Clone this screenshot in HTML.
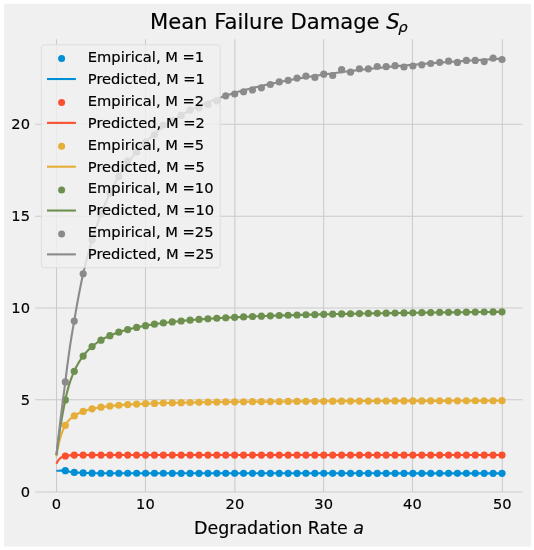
<!DOCTYPE html>
<html lang="en"><head><meta charset="utf-8"><title>Mean Failure Damage</title>
<style>html,body{margin:0;padding:0;background:#fff;}body{width:534px;height:550px;overflow:hidden;}svg text{stroke:#000;stroke-width:0.17px;}</style>
</head><body>
<svg width="534" height="550" viewBox="0 0 534 550" style="display:block">
<rect x="0" y="0" width="534" height="550" fill="#ffffff"/>
<rect x="4" y="3.8" width="527" height="542.7" fill="#f0f0f0"/>
<g stroke="#cbcbcb" stroke-width="1.05" fill="none">
<line x1="56.50" y1="39.20" x2="56.50" y2="491.95"/>
<line x1="145.45" y1="39.20" x2="145.45" y2="491.95"/>
<line x1="234.90" y1="39.20" x2="234.90" y2="491.95"/>
<line x1="323.65" y1="39.20" x2="323.65" y2="491.95"/>
<line x1="412.45" y1="39.20" x2="412.45" y2="491.95"/>
<line x1="502.36" y1="39.20" x2="502.36" y2="491.95"/>
<line x1="35.20" y1="491.95" x2="522.60" y2="491.95"/>
<line x1="35.20" y1="399.70" x2="522.60" y2="399.70"/>
<line x1="35.20" y1="308.09" x2="522.60" y2="308.09"/>
<line x1="35.20" y1="216.30" x2="522.60" y2="216.30"/>
<line x1="35.20" y1="124.23" x2="522.60" y2="124.23"/>
</g>
<g fill="#008fd5">
<circle cx="65.34" cy="470.69" r="3.6"/>
<circle cx="74.25" cy="472.43" r="3.6"/>
<circle cx="83.16" cy="472.89" r="3.6"/>
<circle cx="92.08" cy="473.17" r="3.6"/>
<circle cx="100.99" cy="473.26" r="3.6"/>
<circle cx="109.90" cy="473.26" r="3.6"/>
<circle cx="118.81" cy="473.26" r="3.6"/>
<circle cx="127.72" cy="473.27" r="3.6"/>
<circle cx="136.63" cy="473.27" r="3.6"/>
<circle cx="145.55" cy="473.27" r="3.6"/>
<circle cx="154.46" cy="473.27" r="3.6"/>
<circle cx="163.37" cy="473.27" r="3.6"/>
<circle cx="172.28" cy="473.28" r="3.6"/>
<circle cx="181.19" cy="473.28" r="3.6"/>
<circle cx="190.10" cy="473.28" r="3.6"/>
<circle cx="199.02" cy="473.28" r="3.6"/>
<circle cx="207.93" cy="473.28" r="3.6"/>
<circle cx="216.84" cy="473.29" r="3.6"/>
<circle cx="225.75" cy="473.29" r="3.6"/>
<circle cx="234.66" cy="473.29" r="3.6"/>
<circle cx="243.57" cy="473.29" r="3.6"/>
<circle cx="252.49" cy="473.29" r="3.6"/>
<circle cx="261.40" cy="473.30" r="3.6"/>
<circle cx="270.31" cy="473.30" r="3.6"/>
<circle cx="279.22" cy="473.30" r="3.6"/>
<circle cx="288.13" cy="473.30" r="3.6"/>
<circle cx="297.04" cy="473.30" r="3.6"/>
<circle cx="305.95" cy="473.31" r="3.6"/>
<circle cx="314.87" cy="473.31" r="3.6"/>
<circle cx="323.78" cy="473.31" r="3.6"/>
<circle cx="332.69" cy="473.31" r="3.6"/>
<circle cx="341.60" cy="473.31" r="3.6"/>
<circle cx="350.51" cy="473.32" r="3.6"/>
<circle cx="359.42" cy="473.32" r="3.6"/>
<circle cx="368.34" cy="473.32" r="3.6"/>
<circle cx="377.25" cy="473.32" r="3.6"/>
<circle cx="386.16" cy="473.32" r="3.6"/>
<circle cx="395.07" cy="473.33" r="3.6"/>
<circle cx="403.98" cy="473.33" r="3.6"/>
<circle cx="412.89" cy="473.33" r="3.6"/>
<circle cx="421.81" cy="473.33" r="3.6"/>
<circle cx="430.72" cy="473.33" r="3.6"/>
<circle cx="439.63" cy="473.34" r="3.6"/>
<circle cx="448.54" cy="473.34" r="3.6"/>
<circle cx="457.45" cy="473.34" r="3.6"/>
<circle cx="466.36" cy="473.34" r="3.6"/>
<circle cx="475.28" cy="473.34" r="3.6"/>
<circle cx="484.19" cy="473.35" r="3.6"/>
<circle cx="493.10" cy="473.35" r="3.6"/>
<circle cx="502.01" cy="473.35" r="3.6"/>
</g>
<polyline points="56.43,470.87 57.32,470.82 58.21,470.76 59.10,470.70 59.99,470.65 60.89,470.59 61.78,470.61 62.67,470.63 63.56,470.65 64.45,470.67 65.34,470.69 66.23,470.91 67.12,471.13 68.02,471.35 68.91,471.57 69.80,471.79 70.69,471.92 71.58,472.05 72.47,472.17 73.36,472.30 74.25,472.43 75.14,472.48 76.04,472.52 76.93,472.57 77.82,472.62 78.71,472.66 79.60,472.71 80.49,472.75 81.38,472.80 82.27,472.85 83.16,472.89 84.06,472.92 84.95,472.95 85.84,472.97 86.73,473.00 87.62,473.03 88.51,473.06 89.40,473.08 90.29,473.11 91.19,473.14 92.08,473.17 92.97,473.18 93.86,473.19 94.75,473.19 95.64,473.20 96.53,473.21 97.42,473.22 98.31,473.23 99.21,473.24 100.10,473.25 100.99,473.26 101.88,473.26 102.77,473.26 103.66,473.26 104.55,473.26 105.44,473.26 106.33,473.26 107.23,473.26 108.12,473.26 109.01,473.26 109.90,473.26 110.79,473.26 111.68,473.26 112.57,473.26 113.46,473.26 114.36,473.26 115.25,473.26 116.14,473.26 117.03,473.26 117.92,473.26 118.81,473.26 119.70,473.26 120.59,473.26 121.48,473.26 122.38,473.26 123.27,473.26 124.16,473.26 125.05,473.26 125.94,473.26 126.83,473.27 127.72,473.27 128.61,473.27 129.51,473.27 130.40,473.27 131.29,473.27 132.18,473.27 133.07,473.27 133.96,473.27 134.85,473.27 135.74,473.27 136.63,473.27 137.53,473.27 138.42,473.27 139.31,473.27 140.20,473.27 141.09,473.27 141.98,473.27 142.87,473.27 143.76,473.27 144.65,473.27 145.55,473.27 146.44,473.27 147.33,473.27 148.22,473.27 149.11,473.27 150.00,473.27 150.89,473.27 151.78,473.27 152.68,473.27 153.57,473.27 154.46,473.27 155.35,473.27 156.24,473.27 157.13,473.27 158.02,473.27 158.91,473.27 159.80,473.27 160.70,473.27 161.59,473.27 162.48,473.27 163.37,473.27 164.26,473.27 165.15,473.27 166.04,473.27 166.93,473.27 167.82,473.27 168.72,473.27 169.61,473.27 170.50,473.28 171.39,473.28 172.28,473.28 173.17,473.28 174.06,473.28 174.95,473.28 175.85,473.28 176.74,473.28 177.63,473.28 178.52,473.28 179.41,473.28 180.30,473.28 181.19,473.28 182.08,473.28 182.97,473.28 183.87,473.28 184.76,473.28 185.65,473.28 186.54,473.28 187.43,473.28 188.32,473.28 189.21,473.28 190.10,473.28 191.00,473.28 191.89,473.28 192.78,473.28 193.67,473.28 194.56,473.28 195.45,473.28 196.34,473.28 197.23,473.28 198.12,473.28 199.02,473.28 199.91,473.28 200.80,473.28 201.69,473.28 202.58,473.28 203.47,473.28 204.36,473.28 205.25,473.28 206.14,473.28 207.04,473.28 207.93,473.28 208.82,473.28 209.71,473.28 210.60,473.28 211.49,473.28 212.38,473.28 213.27,473.28 214.17,473.29 215.06,473.29 215.95,473.29 216.84,473.29 217.73,473.29 218.62,473.29 219.51,473.29 220.40,473.29 221.29,473.29 222.19,473.29 223.08,473.29 223.97,473.29 224.86,473.29 225.75,473.29 226.64,473.29 227.53,473.29 228.42,473.29 229.32,473.29 230.21,473.29 231.10,473.29 231.99,473.29 232.88,473.29 233.77,473.29 234.66,473.29 235.55,473.29 236.44,473.29 237.34,473.29 238.23,473.29 239.12,473.29 240.01,473.29 240.90,473.29 241.79,473.29 242.68,473.29 243.57,473.29 244.46,473.29 245.36,473.29 246.25,473.29 247.14,473.29 248.03,473.29 248.92,473.29 249.81,473.29 250.70,473.29 251.59,473.29 252.49,473.29 253.38,473.29 254.27,473.29 255.16,473.29 256.05,473.29 256.94,473.29 257.83,473.30 258.72,473.30 259.61,473.30 260.51,473.30 261.40,473.30 262.29,473.30 263.18,473.30 264.07,473.30 264.96,473.30 265.85,473.30 266.74,473.30 267.63,473.30 268.53,473.30 269.42,473.30 270.31,473.30 271.20,473.30 272.09,473.30 272.98,473.30 273.87,473.30 274.76,473.30 275.66,473.30 276.55,473.30 277.44,473.30 278.33,473.30 279.22,473.30 280.11,473.30 281.00,473.30 281.89,473.30 282.78,473.30 283.68,473.30 284.57,473.30 285.46,473.30 286.35,473.30 287.24,473.30 288.13,473.30 289.02,473.30 289.91,473.30 290.81,473.30 291.70,473.30 292.59,473.30 293.48,473.30 294.37,473.30 295.26,473.30 296.15,473.30 297.04,473.30 297.93,473.30 298.83,473.30 299.72,473.30 300.61,473.30 301.50,473.31 302.39,473.31 303.28,473.31 304.17,473.31 305.06,473.31 305.95,473.31 306.85,473.31 307.74,473.31 308.63,473.31 309.52,473.31 310.41,473.31 311.30,473.31 312.19,473.31 313.08,473.31 313.98,473.31 314.87,473.31 315.76,473.31 316.65,473.31 317.54,473.31 318.43,473.31 319.32,473.31 320.21,473.31 321.10,473.31 322.00,473.31 322.89,473.31 323.78,473.31 324.67,473.31 325.56,473.31 326.45,473.31 327.34,473.31 328.23,473.31 329.12,473.31 330.02,473.31 330.91,473.31 331.80,473.31 332.69,473.31 333.58,473.31 334.47,473.31 335.36,473.31 336.25,473.31 337.15,473.31 338.04,473.31 338.93,473.31 339.82,473.31 340.71,473.31 341.60,473.31 342.49,473.31 343.38,473.31 344.27,473.31 345.17,473.32 346.06,473.32 346.95,473.32 347.84,473.32 348.73,473.32 349.62,473.32 350.51,473.32 351.40,473.32 352.30,473.32 353.19,473.32 354.08,473.32 354.97,473.32 355.86,473.32 356.75,473.32 357.64,473.32 358.53,473.32 359.42,473.32 360.32,473.32 361.21,473.32 362.10,473.32 362.99,473.32 363.88,473.32 364.77,473.32 365.66,473.32 366.55,473.32 367.44,473.32 368.34,473.32 369.23,473.32 370.12,473.32 371.01,473.32 371.90,473.32 372.79,473.32 373.68,473.32 374.57,473.32 375.47,473.32 376.36,473.32 377.25,473.32 378.14,473.32 379.03,473.32 379.92,473.32 380.81,473.32 381.70,473.32 382.59,473.32 383.49,473.32 384.38,473.32 385.27,473.32 386.16,473.32 387.05,473.32 387.94,473.32 388.83,473.33 389.72,473.33 390.62,473.33 391.51,473.33 392.40,473.33 393.29,473.33 394.18,473.33 395.07,473.33 395.96,473.33 396.85,473.33 397.74,473.33 398.64,473.33 399.53,473.33 400.42,473.33 401.31,473.33 402.20,473.33 403.09,473.33 403.98,473.33 404.87,473.33 405.76,473.33 406.66,473.33 407.55,473.33 408.44,473.33 409.33,473.33 410.22,473.33 411.11,473.33 412.00,473.33 412.89,473.33 413.79,473.33 414.68,473.33 415.57,473.33 416.46,473.33 417.35,473.33 418.24,473.33 419.13,473.33 420.02,473.33 420.91,473.33 421.81,473.33 422.70,473.33 423.59,473.33 424.48,473.33 425.37,473.33 426.26,473.33 427.15,473.33 428.04,473.33 428.93,473.33 429.83,473.33 430.72,473.33 431.61,473.33 432.50,473.34 433.39,473.34 434.28,473.34 435.17,473.34 436.06,473.34 436.96,473.34 437.85,473.34 438.74,473.34 439.63,473.34 440.52,473.34 441.41,473.34 442.30,473.34 443.19,473.34 444.08,473.34 444.98,473.34 445.87,473.34 446.76,473.34 447.65,473.34 448.54,473.34 449.43,473.34 450.32,473.34 451.21,473.34 452.11,473.34 453.00,473.34 453.89,473.34 454.78,473.34 455.67,473.34 456.56,473.34 457.45,473.34 458.34,473.34 459.23,473.34 460.13,473.34 461.02,473.34 461.91,473.34 462.80,473.34 463.69,473.34 464.58,473.34 465.47,473.34 466.36,473.34 467.25,473.34 468.15,473.34 469.04,473.34 469.93,473.34 470.82,473.34 471.71,473.34 472.60,473.34 473.49,473.34 474.38,473.34 475.28,473.34 476.17,473.35 477.06,473.35 477.95,473.35 478.84,473.35 479.73,473.35 480.62,473.35 481.51,473.35 482.40,473.35 483.30,473.35 484.19,473.35 485.08,473.35 485.97,473.35 486.86,473.35 487.75,473.35 488.64,473.35 489.53,473.35 490.42,473.35 491.32,473.35 492.21,473.35 493.10,473.35 493.99,473.35 494.88,473.35 495.77,473.35 496.66,473.35 497.55,473.35 498.45,473.35 499.34,473.35 500.23,473.35 501.12,473.35 502.01,473.35" fill="none" stroke="#008fd5" stroke-width="2.1" stroke-linejoin="round" stroke-linecap="butt"/>
<g fill="#fc4f30">
<circle cx="65.34" cy="455.98" r="3.6"/>
<circle cx="74.25" cy="455.07" r="3.6"/>
<circle cx="83.16" cy="455.07" r="3.6"/>
<circle cx="92.08" cy="455.07" r="3.6"/>
<circle cx="100.99" cy="455.07" r="3.6"/>
<circle cx="109.90" cy="455.07" r="3.6"/>
<circle cx="118.81" cy="455.07" r="3.6"/>
<circle cx="127.72" cy="455.07" r="3.6"/>
<circle cx="136.63" cy="455.07" r="3.6"/>
<circle cx="145.55" cy="455.07" r="3.6"/>
<circle cx="154.46" cy="455.07" r="3.6"/>
<circle cx="163.37" cy="455.07" r="3.6"/>
<circle cx="172.28" cy="455.07" r="3.6"/>
<circle cx="181.19" cy="455.07" r="3.6"/>
<circle cx="190.10" cy="455.07" r="3.6"/>
<circle cx="199.02" cy="455.07" r="3.6"/>
<circle cx="207.93" cy="455.07" r="3.6"/>
<circle cx="216.84" cy="455.07" r="3.6"/>
<circle cx="225.75" cy="455.07" r="3.6"/>
<circle cx="234.66" cy="455.07" r="3.6"/>
<circle cx="243.57" cy="455.07" r="3.6"/>
<circle cx="252.49" cy="455.07" r="3.6"/>
<circle cx="261.40" cy="455.07" r="3.6"/>
<circle cx="270.31" cy="455.07" r="3.6"/>
<circle cx="279.22" cy="455.07" r="3.6"/>
<circle cx="288.13" cy="455.07" r="3.6"/>
<circle cx="297.04" cy="455.07" r="3.6"/>
<circle cx="305.95" cy="455.07" r="3.6"/>
<circle cx="314.87" cy="455.07" r="3.6"/>
<circle cx="323.78" cy="455.07" r="3.6"/>
<circle cx="332.69" cy="455.07" r="3.6"/>
<circle cx="341.60" cy="455.07" r="3.6"/>
<circle cx="350.51" cy="455.07" r="3.6"/>
<circle cx="359.42" cy="455.07" r="3.6"/>
<circle cx="368.34" cy="455.07" r="3.6"/>
<circle cx="377.25" cy="455.07" r="3.6"/>
<circle cx="386.16" cy="455.07" r="3.6"/>
<circle cx="395.07" cy="455.07" r="3.6"/>
<circle cx="403.98" cy="455.07" r="3.6"/>
<circle cx="412.89" cy="455.07" r="3.6"/>
<circle cx="421.81" cy="455.07" r="3.6"/>
<circle cx="430.72" cy="455.07" r="3.6"/>
<circle cx="439.63" cy="455.07" r="3.6"/>
<circle cx="448.54" cy="455.07" r="3.6"/>
<circle cx="457.45" cy="455.07" r="3.6"/>
<circle cx="466.36" cy="455.07" r="3.6"/>
<circle cx="475.28" cy="455.07" r="3.6"/>
<circle cx="484.19" cy="455.07" r="3.6"/>
<circle cx="493.10" cy="455.07" r="3.6"/>
<circle cx="502.01" cy="455.07" r="3.6"/>
</g>
<polyline points="56.43,463.70 57.32,462.09 58.21,460.47 59.10,459.26 59.99,458.45 60.89,457.64 61.78,457.20 62.67,456.76 63.56,456.43 64.45,456.21 65.34,455.98 66.23,455.86 67.12,455.73 68.02,455.60 68.91,455.47 69.80,455.34 70.69,455.29 71.58,455.23 72.47,455.18 73.36,455.12 74.25,455.07 75.14,455.07 76.04,455.07 76.93,455.07 77.82,455.07 78.71,455.07 79.60,455.07 80.49,455.07 81.38,455.07 82.27,455.07 83.16,455.07 84.06,455.07 84.95,455.07 85.84,455.07 86.73,455.07 87.62,455.07 88.51,455.07 89.40,455.07 90.29,455.07 91.19,455.07 92.08,455.07 92.97,455.07 93.86,455.07 94.75,455.07 95.64,455.07 96.53,455.07 97.42,455.07 98.31,455.07 99.21,455.07 100.10,455.07 100.99,455.07 101.88,455.07 102.77,455.07 103.66,455.07 104.55,455.07 105.44,455.07 106.33,455.07 107.23,455.07 108.12,455.07 109.01,455.07 109.90,455.07 110.79,455.07 111.68,455.07 112.57,455.07 113.46,455.07 114.36,455.07 115.25,455.07 116.14,455.07 117.03,455.07 117.92,455.07 118.81,455.07 119.70,455.07 120.59,455.07 121.48,455.07 122.38,455.07 123.27,455.07 124.16,455.07 125.05,455.07 125.94,455.07 126.83,455.07 127.72,455.07 128.61,455.07 129.51,455.07 130.40,455.07 131.29,455.07 132.18,455.07 133.07,455.07 133.96,455.07 134.85,455.07 135.74,455.07 136.63,455.07 137.53,455.07 138.42,455.07 139.31,455.07 140.20,455.07 141.09,455.07 141.98,455.07 142.87,455.07 143.76,455.07 144.65,455.07 145.55,455.07 146.44,455.07 147.33,455.07 148.22,455.07 149.11,455.07 150.00,455.07 150.89,455.07 151.78,455.07 152.68,455.07 153.57,455.07 154.46,455.07 155.35,455.07 156.24,455.07 157.13,455.07 158.02,455.07 158.91,455.07 159.80,455.07 160.70,455.07 161.59,455.07 162.48,455.07 163.37,455.07 164.26,455.07 165.15,455.07 166.04,455.07 166.93,455.07 167.82,455.07 168.72,455.07 169.61,455.07 170.50,455.07 171.39,455.07 172.28,455.07 173.17,455.07 174.06,455.07 174.95,455.07 175.85,455.07 176.74,455.07 177.63,455.07 178.52,455.07 179.41,455.07 180.30,455.07 181.19,455.07 182.08,455.07 182.97,455.07 183.87,455.07 184.76,455.07 185.65,455.07 186.54,455.07 187.43,455.07 188.32,455.07 189.21,455.07 190.10,455.07 191.00,455.07 191.89,455.07 192.78,455.07 193.67,455.07 194.56,455.07 195.45,455.07 196.34,455.07 197.23,455.07 198.12,455.07 199.02,455.07 199.91,455.07 200.80,455.07 201.69,455.07 202.58,455.07 203.47,455.07 204.36,455.07 205.25,455.07 206.14,455.07 207.04,455.07 207.93,455.07 208.82,455.07 209.71,455.07 210.60,455.07 211.49,455.07 212.38,455.07 213.27,455.07 214.17,455.07 215.06,455.07 215.95,455.07 216.84,455.07 217.73,455.07 218.62,455.07 219.51,455.07 220.40,455.07 221.29,455.07 222.19,455.07 223.08,455.07 223.97,455.07 224.86,455.07 225.75,455.07 226.64,455.07 227.53,455.07 228.42,455.07 229.32,455.07 230.21,455.07 231.10,455.07 231.99,455.07 232.88,455.07 233.77,455.07 234.66,455.07 235.55,455.07 236.44,455.07 237.34,455.07 238.23,455.07 239.12,455.07 240.01,455.07 240.90,455.07 241.79,455.07 242.68,455.07 243.57,455.07 244.46,455.07 245.36,455.07 246.25,455.07 247.14,455.07 248.03,455.07 248.92,455.07 249.81,455.07 250.70,455.07 251.59,455.07 252.49,455.07 253.38,455.07 254.27,455.07 255.16,455.07 256.05,455.07 256.94,455.07 257.83,455.07 258.72,455.07 259.61,455.07 260.51,455.07 261.40,455.07 262.29,455.07 263.18,455.07 264.07,455.07 264.96,455.07 265.85,455.07 266.74,455.07 267.63,455.07 268.53,455.07 269.42,455.07 270.31,455.07 271.20,455.07 272.09,455.07 272.98,455.07 273.87,455.07 274.76,455.07 275.66,455.07 276.55,455.07 277.44,455.07 278.33,455.07 279.22,455.07 280.11,455.07 281.00,455.07 281.89,455.07 282.78,455.07 283.68,455.07 284.57,455.07 285.46,455.07 286.35,455.07 287.24,455.07 288.13,455.07 289.02,455.07 289.91,455.07 290.81,455.07 291.70,455.07 292.59,455.07 293.48,455.07 294.37,455.07 295.26,455.07 296.15,455.07 297.04,455.07 297.93,455.07 298.83,455.07 299.72,455.07 300.61,455.07 301.50,455.07 302.39,455.07 303.28,455.07 304.17,455.07 305.06,455.07 305.95,455.07 306.85,455.07 307.74,455.07 308.63,455.07 309.52,455.07 310.41,455.07 311.30,455.07 312.19,455.07 313.08,455.07 313.98,455.07 314.87,455.07 315.76,455.07 316.65,455.07 317.54,455.07 318.43,455.07 319.32,455.07 320.21,455.07 321.10,455.07 322.00,455.07 322.89,455.07 323.78,455.07 324.67,455.07 325.56,455.07 326.45,455.07 327.34,455.07 328.23,455.07 329.12,455.07 330.02,455.07 330.91,455.07 331.80,455.07 332.69,455.07 333.58,455.07 334.47,455.07 335.36,455.07 336.25,455.07 337.15,455.07 338.04,455.07 338.93,455.07 339.82,455.07 340.71,455.07 341.60,455.07 342.49,455.07 343.38,455.07 344.27,455.07 345.17,455.07 346.06,455.07 346.95,455.07 347.84,455.07 348.73,455.07 349.62,455.07 350.51,455.07 351.40,455.07 352.30,455.07 353.19,455.07 354.08,455.07 354.97,455.07 355.86,455.07 356.75,455.07 357.64,455.07 358.53,455.07 359.42,455.07 360.32,455.07 361.21,455.07 362.10,455.07 362.99,455.07 363.88,455.07 364.77,455.07 365.66,455.07 366.55,455.07 367.44,455.07 368.34,455.07 369.23,455.07 370.12,455.07 371.01,455.07 371.90,455.07 372.79,455.07 373.68,455.07 374.57,455.07 375.47,455.07 376.36,455.07 377.25,455.07 378.14,455.07 379.03,455.07 379.92,455.07 380.81,455.07 381.70,455.07 382.59,455.07 383.49,455.07 384.38,455.07 385.27,455.07 386.16,455.07 387.05,455.07 387.94,455.07 388.83,455.07 389.72,455.07 390.62,455.07 391.51,455.07 392.40,455.07 393.29,455.07 394.18,455.07 395.07,455.07 395.96,455.07 396.85,455.07 397.74,455.07 398.64,455.07 399.53,455.07 400.42,455.07 401.31,455.07 402.20,455.07 403.09,455.07 403.98,455.07 404.87,455.07 405.76,455.07 406.66,455.07 407.55,455.07 408.44,455.07 409.33,455.07 410.22,455.07 411.11,455.07 412.00,455.07 412.89,455.07 413.79,455.07 414.68,455.07 415.57,455.07 416.46,455.07 417.35,455.07 418.24,455.07 419.13,455.07 420.02,455.07 420.91,455.07 421.81,455.07 422.70,455.07 423.59,455.07 424.48,455.07 425.37,455.07 426.26,455.07 427.15,455.07 428.04,455.07 428.93,455.07 429.83,455.07 430.72,455.07 431.61,455.07 432.50,455.07 433.39,455.07 434.28,455.07 435.17,455.07 436.06,455.07 436.96,455.07 437.85,455.07 438.74,455.07 439.63,455.07 440.52,455.07 441.41,455.07 442.30,455.07 443.19,455.07 444.08,455.07 444.98,455.07 445.87,455.07 446.76,455.07 447.65,455.07 448.54,455.07 449.43,455.07 450.32,455.07 451.21,455.07 452.11,455.07 453.00,455.07 453.89,455.07 454.78,455.07 455.67,455.07 456.56,455.07 457.45,455.07 458.34,455.07 459.23,455.07 460.13,455.07 461.02,455.07 461.91,455.07 462.80,455.07 463.69,455.07 464.58,455.07 465.47,455.07 466.36,455.07 467.25,455.07 468.15,455.07 469.04,455.07 469.93,455.07 470.82,455.07 471.71,455.07 472.60,455.07 473.49,455.07 474.38,455.07 475.28,455.07 476.17,455.07 477.06,455.07 477.95,455.07 478.84,455.07 479.73,455.07 480.62,455.07 481.51,455.07 482.40,455.07 483.30,455.07 484.19,455.07 485.08,455.07 485.97,455.07 486.86,455.07 487.75,455.07 488.64,455.07 489.53,455.07 490.42,455.07 491.32,455.07 492.21,455.07 493.10,455.07 493.99,455.07 494.88,455.07 495.77,455.07 496.66,455.07 497.55,455.07 498.45,455.07 499.34,455.07 500.23,455.07 501.12,455.07 502.01,455.07" fill="none" stroke="#fc4f30" stroke-width="2.1" stroke-linejoin="round" stroke-linecap="butt"/>
<g fill="#e5ae38">
<circle cx="65.34" cy="425.24" r="3.6"/>
<circle cx="74.25" cy="415.88" r="3.6"/>
<circle cx="83.16" cy="411.45" r="3.6"/>
<circle cx="92.08" cy="408.85" r="3.6"/>
<circle cx="100.99" cy="407.21" r="3.6"/>
<circle cx="109.90" cy="406.08" r="3.6"/>
<circle cx="118.81" cy="405.25" r="3.6"/>
<circle cx="127.72" cy="404.62" r="3.6"/>
<circle cx="136.63" cy="404.12" r="3.6"/>
<circle cx="145.55" cy="403.72" r="3.6"/>
<circle cx="154.46" cy="403.39" r="3.6"/>
<circle cx="163.37" cy="403.11" r="3.6"/>
<circle cx="172.28" cy="402.88" r="3.6"/>
<circle cx="181.19" cy="402.67" r="3.6"/>
<circle cx="190.10" cy="402.50" r="3.6"/>
<circle cx="199.02" cy="402.34" r="3.6"/>
<circle cx="207.93" cy="402.20" r="3.6"/>
<circle cx="216.84" cy="402.08" r="3.6"/>
<circle cx="225.75" cy="401.97" r="3.6"/>
<circle cx="234.66" cy="401.87" r="3.6"/>
<circle cx="243.57" cy="401.78" r="3.6"/>
<circle cx="252.49" cy="401.70" r="3.6"/>
<circle cx="261.40" cy="401.62" r="3.6"/>
<circle cx="270.31" cy="401.55" r="3.6"/>
<circle cx="279.22" cy="401.49" r="3.6"/>
<circle cx="288.13" cy="401.43" r="3.6"/>
<circle cx="297.04" cy="401.38" r="3.6"/>
<circle cx="305.95" cy="401.32" r="3.6"/>
<circle cx="314.87" cy="401.28" r="3.6"/>
<circle cx="323.78" cy="401.23" r="3.6"/>
<circle cx="332.69" cy="401.19" r="3.6"/>
<circle cx="341.60" cy="401.15" r="3.6"/>
<circle cx="350.51" cy="401.12" r="3.6"/>
<circle cx="359.42" cy="401.08" r="3.6"/>
<circle cx="368.34" cy="401.05" r="3.6"/>
<circle cx="377.25" cy="401.02" r="3.6"/>
<circle cx="386.16" cy="400.99" r="3.6"/>
<circle cx="395.07" cy="400.96" r="3.6"/>
<circle cx="403.98" cy="400.94" r="3.6"/>
<circle cx="412.89" cy="400.91" r="3.6"/>
<circle cx="421.81" cy="400.89" r="3.6"/>
<circle cx="430.72" cy="400.87" r="3.6"/>
<circle cx="439.63" cy="400.84" r="3.6"/>
<circle cx="448.54" cy="400.82" r="3.6"/>
<circle cx="457.45" cy="400.80" r="3.6"/>
<circle cx="466.36" cy="400.79" r="3.6"/>
<circle cx="475.28" cy="400.77" r="3.6"/>
<circle cx="484.19" cy="400.75" r="3.6"/>
<circle cx="493.10" cy="400.73" r="3.6"/>
<circle cx="502.01" cy="400.72" r="3.6"/>
</g>
<polyline points="56.43,456.35 57.32,450.80 58.21,446.14 59.10,442.17 59.99,438.75 60.89,435.77 61.78,433.15 62.67,430.83 63.56,428.77 64.45,426.91 65.34,425.24 66.23,423.71 67.12,422.39 68.02,421.22 68.91,420.19 69.80,419.28 70.69,418.46 71.58,417.72 72.47,417.05 73.36,416.44 74.25,415.88 75.14,415.28 76.04,414.72 76.93,414.21 77.82,413.73 78.71,413.29 79.60,412.87 80.49,412.48 81.38,412.12 82.27,411.78 83.16,411.45 84.06,411.13 84.95,410.82 85.84,410.53 86.73,410.25 87.62,409.99 88.51,409.74 89.40,409.50 90.29,409.28 91.19,409.06 92.08,408.85 92.97,408.66 93.86,408.47 94.75,408.29 95.64,408.12 96.53,407.95 97.42,407.79 98.31,407.64 99.21,407.49 100.10,407.35 100.99,407.21 101.88,407.08 102.77,406.95 103.66,406.83 104.55,406.71 105.44,406.60 106.33,406.49 107.23,406.38 108.12,406.28 109.01,406.18 109.90,406.08 110.79,405.99 111.68,405.89 112.57,405.81 113.46,405.72 114.36,405.64 115.25,405.56 116.14,405.48 117.03,405.40 117.92,405.33 118.81,405.25 119.70,405.18 120.59,405.11 121.48,405.05 122.38,404.98 123.27,404.92 124.16,404.86 125.05,404.79 125.94,404.74 126.83,404.68 127.72,404.62 128.61,404.57 129.51,404.51 130.40,404.46 131.29,404.41 132.18,404.36 133.07,404.31 133.96,404.26 134.85,404.22 135.74,404.17 136.63,404.12 137.53,404.08 138.42,404.04 139.31,404.00 140.20,403.95 141.09,403.91 141.98,403.87 142.87,403.84 143.76,403.80 144.65,403.76 145.55,403.72 146.44,403.69 147.33,403.65 148.22,403.62 149.11,403.58 150.00,403.55 150.89,403.52 151.78,403.48 152.68,403.45 153.57,403.42 154.46,403.39 155.35,403.36 156.24,403.33 157.13,403.30 158.02,403.27 158.91,403.25 159.80,403.22 160.70,403.19 161.59,403.17 162.48,403.14 163.37,403.11 164.26,403.09 165.15,403.06 166.04,403.04 166.93,403.01 167.82,402.99 168.72,402.97 169.61,402.94 170.50,402.92 171.39,402.90 172.28,402.88 173.17,402.86 174.06,402.83 174.95,402.81 175.85,402.79 176.74,402.77 177.63,402.75 178.52,402.73 179.41,402.71 180.30,402.69 181.19,402.67 182.08,402.65 182.97,402.64 183.87,402.62 184.76,402.60 185.65,402.58 186.54,402.56 187.43,402.55 188.32,402.53 189.21,402.51 190.10,402.50 191.00,402.48 191.89,402.46 192.78,402.45 193.67,402.43 194.56,402.42 195.45,402.40 196.34,402.38 197.23,402.37 198.12,402.35 199.02,402.34 199.91,402.33 200.80,402.31 201.69,402.30 202.58,402.28 203.47,402.27 204.36,402.26 205.25,402.24 206.14,402.23 207.04,402.21 207.93,402.20 208.82,402.19 209.71,402.18 210.60,402.16 211.49,402.15 212.38,402.14 213.27,402.13 214.17,402.11 215.06,402.10 215.95,402.09 216.84,402.08 217.73,402.07 218.62,402.06 219.51,402.04 220.40,402.03 221.29,402.02 222.19,402.01 223.08,402.00 223.97,401.99 224.86,401.98 225.75,401.97 226.64,401.96 227.53,401.95 228.42,401.94 229.32,401.93 230.21,401.92 231.10,401.91 231.99,401.90 232.88,401.89 233.77,401.88 234.66,401.87 235.55,401.86 236.44,401.85 237.34,401.84 238.23,401.83 239.12,401.82 240.01,401.81 240.90,401.80 241.79,401.80 242.68,401.79 243.57,401.78 244.46,401.77 245.36,401.76 246.25,401.75 247.14,401.74 248.03,401.74 248.92,401.73 249.81,401.72 250.70,401.71 251.59,401.70 252.49,401.70 253.38,401.69 254.27,401.68 255.16,401.67 256.05,401.67 256.94,401.66 257.83,401.65 258.72,401.64 259.61,401.64 260.51,401.63 261.40,401.62 262.29,401.61 263.18,401.61 264.07,401.60 264.96,401.59 265.85,401.59 266.74,401.58 267.63,401.57 268.53,401.57 269.42,401.56 270.31,401.55 271.20,401.55 272.09,401.54 272.98,401.53 273.87,401.53 274.76,401.52 275.66,401.51 276.55,401.51 277.44,401.50 278.33,401.49 279.22,401.49 280.11,401.48 281.00,401.48 281.89,401.47 282.78,401.46 283.68,401.46 284.57,401.45 285.46,401.45 286.35,401.44 287.24,401.44 288.13,401.43 289.02,401.42 289.91,401.42 290.81,401.41 291.70,401.41 292.59,401.40 293.48,401.40 294.37,401.39 295.26,401.39 296.15,401.38 297.04,401.38 297.93,401.37 298.83,401.36 299.72,401.36 300.61,401.35 301.50,401.35 302.39,401.34 303.28,401.34 304.17,401.33 305.06,401.33 305.95,401.32 306.85,401.32 307.74,401.32 308.63,401.31 309.52,401.31 310.41,401.30 311.30,401.30 312.19,401.29 313.08,401.29 313.98,401.28 314.87,401.28 315.76,401.27 316.65,401.27 317.54,401.26 318.43,401.26 319.32,401.26 320.21,401.25 321.10,401.25 322.00,401.24 322.89,401.24 323.78,401.23 324.67,401.23 325.56,401.22 326.45,401.22 327.34,401.22 328.23,401.21 329.12,401.21 330.02,401.20 330.91,401.20 331.80,401.20 332.69,401.19 333.58,401.19 334.47,401.18 335.36,401.18 336.25,401.18 337.15,401.17 338.04,401.17 338.93,401.16 339.82,401.16 340.71,401.16 341.60,401.15 342.49,401.15 343.38,401.15 344.27,401.14 345.17,401.14 346.06,401.13 346.95,401.13 347.84,401.13 348.73,401.12 349.62,401.12 350.51,401.12 351.40,401.11 352.30,401.11 353.19,401.11 354.08,401.10 354.97,401.10 355.86,401.10 356.75,401.09 357.64,401.09 358.53,401.09 359.42,401.08 360.32,401.08 361.21,401.08 362.10,401.07 362.99,401.07 363.88,401.07 364.77,401.06 365.66,401.06 366.55,401.06 367.44,401.05 368.34,401.05 369.23,401.05 370.12,401.04 371.01,401.04 371.90,401.04 372.79,401.03 373.68,401.03 374.57,401.03 375.47,401.03 376.36,401.02 377.25,401.02 378.14,401.02 379.03,401.01 379.92,401.01 380.81,401.01 381.70,401.00 382.59,401.00 383.49,401.00 384.38,401.00 385.27,400.99 386.16,400.99 387.05,400.99 387.94,400.98 388.83,400.98 389.72,400.98 390.62,400.98 391.51,400.97 392.40,400.97 393.29,400.97 394.18,400.97 395.07,400.96 395.96,400.96 396.85,400.96 397.74,400.96 398.64,400.95 399.53,400.95 400.42,400.95 401.31,400.94 402.20,400.94 403.09,400.94 403.98,400.94 404.87,400.93 405.76,400.93 406.66,400.93 407.55,400.93 408.44,400.92 409.33,400.92 410.22,400.92 411.11,400.92 412.00,400.91 412.89,400.91 413.79,400.91 414.68,400.91 415.57,400.91 416.46,400.90 417.35,400.90 418.24,400.90 419.13,400.90 420.02,400.89 420.91,400.89 421.81,400.89 422.70,400.89 423.59,400.88 424.48,400.88 425.37,400.88 426.26,400.88 427.15,400.88 428.04,400.87 428.93,400.87 429.83,400.87 430.72,400.87 431.61,400.86 432.50,400.86 433.39,400.86 434.28,400.86 435.17,400.86 436.06,400.85 436.96,400.85 437.85,400.85 438.74,400.85 439.63,400.84 440.52,400.84 441.41,400.84 442.30,400.84 443.19,400.84 444.08,400.83 444.98,400.83 445.87,400.83 446.76,400.83 447.65,400.83 448.54,400.82 449.43,400.82 450.32,400.82 451.21,400.82 452.11,400.82 453.00,400.81 453.89,400.81 454.78,400.81 455.67,400.81 456.56,400.81 457.45,400.80 458.34,400.80 459.23,400.80 460.13,400.80 461.02,400.80 461.91,400.80 462.80,400.79 463.69,400.79 464.58,400.79 465.47,400.79 466.36,400.79 467.25,400.78 468.15,400.78 469.04,400.78 469.93,400.78 470.82,400.78 471.71,400.78 472.60,400.77 473.49,400.77 474.38,400.77 475.28,400.77 476.17,400.77 477.06,400.76 477.95,400.76 478.84,400.76 479.73,400.76 480.62,400.76 481.51,400.76 482.40,400.75 483.30,400.75 484.19,400.75 485.08,400.75 485.97,400.75 486.86,400.75 487.75,400.74 488.64,400.74 489.53,400.74 490.42,400.74 491.32,400.74 492.21,400.74 493.10,400.73 493.99,400.73 494.88,400.73 495.77,400.73 496.66,400.73 497.55,400.73 498.45,400.72 499.34,400.72 500.23,400.72 501.12,400.72 502.01,400.72" fill="none" stroke="#e5ae38" stroke-width="2.1" stroke-linejoin="round" stroke-linecap="butt"/>
<g fill="#6d904f">
<circle cx="65.34" cy="399.94" r="3.6"/>
<circle cx="74.25" cy="371.32" r="3.6"/>
<circle cx="83.16" cy="356.03" r="3.6"/>
<circle cx="92.08" cy="346.55" r="3.6"/>
<circle cx="100.99" cy="340.19" r="3.6"/>
<circle cx="109.90" cy="335.64" r="3.6"/>
<circle cx="118.81" cy="332.22" r="3.6"/>
<circle cx="127.72" cy="329.55" r="3.6"/>
<circle cx="136.63" cy="327.41" r="3.6"/>
<circle cx="145.55" cy="325.66" r="3.6"/>
<circle cx="154.46" cy="324.20" r="3.6"/>
<circle cx="163.37" cy="322.97" r="3.6"/>
<circle cx="172.28" cy="321.90" r="3.6"/>
<circle cx="181.19" cy="320.98" r="3.6"/>
<circle cx="190.10" cy="320.18" r="3.6"/>
<circle cx="199.02" cy="319.47" r="3.6"/>
<circle cx="207.93" cy="318.84" r="3.6"/>
<circle cx="216.84" cy="318.27" r="3.6"/>
<circle cx="225.75" cy="317.76" r="3.6"/>
<circle cx="234.66" cy="317.30" r="3.6"/>
<circle cx="243.57" cy="316.88" r="3.6"/>
<circle cx="252.49" cy="316.50" r="3.6"/>
<circle cx="261.40" cy="316.15" r="3.6"/>
<circle cx="270.31" cy="315.82" r="3.6"/>
<circle cx="279.22" cy="315.52" r="3.6"/>
<circle cx="288.13" cy="315.25" r="3.6"/>
<circle cx="297.04" cy="314.99" r="3.6"/>
<circle cx="305.95" cy="314.75" r="3.6"/>
<circle cx="314.87" cy="314.53" r="3.6"/>
<circle cx="323.78" cy="314.32" r="3.6"/>
<circle cx="332.69" cy="314.13" r="3.6"/>
<circle cx="341.60" cy="313.94" r="3.6"/>
<circle cx="350.51" cy="313.77" r="3.6"/>
<circle cx="359.42" cy="313.61" r="3.6"/>
<circle cx="368.34" cy="313.45" r="3.6"/>
<circle cx="377.25" cy="313.31" r="3.6"/>
<circle cx="386.16" cy="313.17" r="3.6"/>
<circle cx="395.07" cy="313.04" r="3.6"/>
<circle cx="403.98" cy="312.91" r="3.6"/>
<circle cx="412.89" cy="312.79" r="3.6"/>
<circle cx="421.81" cy="312.68" r="3.6"/>
<circle cx="430.72" cy="312.57" r="3.6"/>
<circle cx="439.63" cy="312.47" r="3.6"/>
<circle cx="448.54" cy="312.37" r="3.6"/>
<circle cx="457.45" cy="312.28" r="3.6"/>
<circle cx="466.36" cy="312.19" r="3.6"/>
<circle cx="475.28" cy="312.10" r="3.6"/>
<circle cx="484.19" cy="312.02" r="3.6"/>
<circle cx="493.10" cy="311.94" r="3.6"/>
<circle cx="502.01" cy="311.87" r="3.6"/>
</g>
<polyline points="56.43,455.07 57.32,448.07 58.21,441.48 59.10,435.27 59.99,429.39 60.89,423.83 61.78,418.55 62.67,413.54 63.56,408.78 64.45,404.25 65.34,399.94 66.23,395.79 67.12,392.04 68.02,388.62 68.91,385.51 69.80,382.65 70.69,380.02 71.58,377.59 72.47,375.35 73.36,373.26 74.25,371.32 75.14,369.35 76.04,367.50 76.93,365.76 77.82,364.13 78.71,362.59 79.60,361.13 80.49,359.75 81.38,358.45 82.27,357.21 83.16,356.03 84.06,354.88 84.95,353.78 85.84,352.73 86.73,351.73 87.62,350.77 88.51,349.85 89.40,348.97 90.29,348.13 91.19,347.32 92.08,346.55 92.97,345.80 93.86,345.08 94.75,344.39 95.64,343.73 96.53,343.09 97.42,342.47 98.31,341.87 99.21,341.29 100.10,340.73 100.99,340.19 101.88,339.67 102.77,339.17 103.66,338.68 104.55,338.20 105.44,337.74 106.33,337.30 107.23,336.87 108.12,336.45 109.01,336.04 109.90,335.64 110.79,335.26 111.68,334.88 112.57,334.52 113.46,334.16 114.36,333.82 115.25,333.48 116.14,333.15 117.03,332.83 117.92,332.52 118.81,332.22 119.70,331.92 120.59,331.63 121.48,331.35 122.38,331.08 123.27,330.81 124.16,330.54 125.05,330.29 125.94,330.04 126.83,329.79 127.72,329.55 128.61,329.32 129.51,329.09 130.40,328.86 131.29,328.64 132.18,328.43 133.07,328.22 133.96,328.01 134.85,327.81 135.74,327.61 136.63,327.41 137.53,327.22 138.42,327.04 139.31,326.85 140.20,326.67 141.09,326.50 141.98,326.32 142.87,326.15 143.76,325.99 144.65,325.82 145.55,325.66 146.44,325.50 147.33,325.35 148.22,325.20 149.11,325.05 150.00,324.90 150.89,324.76 151.78,324.61 152.68,324.47 153.57,324.34 154.46,324.20 155.35,324.07 156.24,323.94 157.13,323.81 158.02,323.68 158.91,323.56 159.80,323.44 160.70,323.32 161.59,323.20 162.48,323.08 163.37,322.97 164.26,322.85 165.15,322.74 166.04,322.63 166.93,322.52 167.82,322.42 168.72,322.31 169.61,322.21 170.50,322.10 171.39,322.00 172.28,321.90 173.17,321.81 174.06,321.71 174.95,321.62 175.85,321.52 176.74,321.43 177.63,321.34 178.52,321.25 179.41,321.16 180.30,321.07 181.19,320.98 182.08,320.90 182.97,320.82 183.87,320.73 184.76,320.65 185.65,320.57 186.54,320.49 187.43,320.41 188.32,320.33 189.21,320.26 190.10,320.18 191.00,320.10 191.89,320.03 192.78,319.96 193.67,319.88 194.56,319.81 195.45,319.74 196.34,319.67 197.23,319.60 198.12,319.54 199.02,319.47 199.91,319.40 200.80,319.34 201.69,319.27 202.58,319.21 203.47,319.14 204.36,319.08 205.25,319.02 206.14,318.96 207.04,318.90 207.93,318.84 208.82,318.78 209.71,318.72 210.60,318.66 211.49,318.60 212.38,318.55 213.27,318.49 214.17,318.43 215.06,318.38 215.95,318.32 216.84,318.27 217.73,318.22 218.62,318.16 219.51,318.11 220.40,318.06 221.29,318.01 222.19,317.96 223.08,317.91 223.97,317.86 224.86,317.81 225.75,317.76 226.64,317.71 227.53,317.66 228.42,317.62 229.32,317.57 230.21,317.52 231.10,317.48 231.99,317.43 232.88,317.39 233.77,317.34 234.66,317.30 235.55,317.26 236.44,317.21 237.34,317.17 238.23,317.13 239.12,317.09 240.01,317.04 240.90,317.00 241.79,316.96 242.68,316.92 243.57,316.88 244.46,316.84 245.36,316.80 246.25,316.76 247.14,316.72 248.03,316.68 248.92,316.65 249.81,316.61 250.70,316.57 251.59,316.53 252.49,316.50 253.38,316.46 254.27,316.42 255.16,316.39 256.05,316.35 256.94,316.32 257.83,316.28 258.72,316.25 259.61,316.21 260.51,316.18 261.40,316.15 262.29,316.11 263.18,316.08 264.07,316.05 264.96,316.01 265.85,315.98 266.74,315.95 267.63,315.92 268.53,315.89 269.42,315.85 270.31,315.82 271.20,315.79 272.09,315.76 272.98,315.73 273.87,315.70 274.76,315.67 275.66,315.64 276.55,315.61 277.44,315.58 278.33,315.55 279.22,315.52 280.11,315.50 281.00,315.47 281.89,315.44 282.78,315.41 283.68,315.38 284.57,315.36 285.46,315.33 286.35,315.30 287.24,315.28 288.13,315.25 289.02,315.22 289.91,315.20 290.81,315.17 291.70,315.14 292.59,315.12 293.48,315.09 294.37,315.07 295.26,315.04 296.15,315.02 297.04,314.99 297.93,314.97 298.83,314.94 299.72,314.92 300.61,314.89 301.50,314.87 302.39,314.85 303.28,314.82 304.17,314.80 305.06,314.78 305.95,314.75 306.85,314.73 307.74,314.71 308.63,314.68 309.52,314.66 310.41,314.64 311.30,314.62 312.19,314.60 313.08,314.57 313.98,314.55 314.87,314.53 315.76,314.51 316.65,314.49 317.54,314.47 318.43,314.45 319.32,314.42 320.21,314.40 321.10,314.38 322.00,314.36 322.89,314.34 323.78,314.32 324.67,314.30 325.56,314.28 326.45,314.26 327.34,314.24 328.23,314.22 329.12,314.20 330.02,314.18 330.91,314.16 331.80,314.14 332.69,314.13 333.58,314.11 334.47,314.09 335.36,314.07 336.25,314.05 337.15,314.03 338.04,314.01 338.93,314.00 339.82,313.98 340.71,313.96 341.60,313.94 342.49,313.92 343.38,313.91 344.27,313.89 345.17,313.87 346.06,313.85 346.95,313.84 347.84,313.82 348.73,313.80 349.62,313.79 350.51,313.77 351.40,313.75 352.30,313.74 353.19,313.72 354.08,313.70 354.97,313.69 355.86,313.67 356.75,313.65 357.64,313.64 358.53,313.62 359.42,313.61 360.32,313.59 361.21,313.57 362.10,313.56 362.99,313.54 363.88,313.53 364.77,313.51 365.66,313.50 366.55,313.48 367.44,313.47 368.34,313.45 369.23,313.44 370.12,313.42 371.01,313.41 371.90,313.39 372.79,313.38 373.68,313.36 374.57,313.35 375.47,313.33 376.36,313.32 377.25,313.31 378.14,313.29 379.03,313.28 379.92,313.26 380.81,313.25 381.70,313.24 382.59,313.22 383.49,313.21 384.38,313.20 385.27,313.18 386.16,313.17 387.05,313.15 387.94,313.14 388.83,313.13 389.72,313.11 390.62,313.10 391.51,313.09 392.40,313.08 393.29,313.06 394.18,313.05 395.07,313.04 395.96,313.02 396.85,313.01 397.74,313.00 398.64,312.99 399.53,312.97 400.42,312.96 401.31,312.95 402.20,312.94 403.09,312.92 403.98,312.91 404.87,312.90 405.76,312.89 406.66,312.88 407.55,312.86 408.44,312.85 409.33,312.84 410.22,312.83 411.11,312.82 412.00,312.81 412.89,312.79 413.79,312.78 414.68,312.77 415.57,312.76 416.46,312.75 417.35,312.74 418.24,312.73 419.13,312.71 420.02,312.70 420.91,312.69 421.81,312.68 422.70,312.67 423.59,312.66 424.48,312.65 425.37,312.64 426.26,312.63 427.15,312.62 428.04,312.61 428.93,312.59 429.83,312.58 430.72,312.57 431.61,312.56 432.50,312.55 433.39,312.54 434.28,312.53 435.17,312.52 436.06,312.51 436.96,312.50 437.85,312.49 438.74,312.48 439.63,312.47 440.52,312.46 441.41,312.45 442.30,312.44 443.19,312.43 444.08,312.42 444.98,312.41 445.87,312.40 446.76,312.39 447.65,312.38 448.54,312.37 449.43,312.36 450.32,312.35 451.21,312.34 452.11,312.34 453.00,312.33 453.89,312.32 454.78,312.31 455.67,312.30 456.56,312.29 457.45,312.28 458.34,312.27 459.23,312.26 460.13,312.25 461.02,312.24 461.91,312.23 462.80,312.22 463.69,312.22 464.58,312.21 465.47,312.20 466.36,312.19 467.25,312.18 468.15,312.17 469.04,312.16 469.93,312.15 470.82,312.15 471.71,312.14 472.60,312.13 473.49,312.12 474.38,312.11 475.28,312.10 476.17,312.09 477.06,312.09 477.95,312.08 478.84,312.07 479.73,312.06 480.62,312.05 481.51,312.05 482.40,312.04 483.30,312.03 484.19,312.02 485.08,312.01 485.97,312.00 486.86,312.00 487.75,311.99 488.64,311.98 489.53,311.97 490.42,311.96 491.32,311.96 492.21,311.95 493.10,311.94 493.99,311.93 494.88,311.93 495.77,311.92 496.66,311.91 497.55,311.90 498.45,311.90 499.34,311.89 500.23,311.88 501.12,311.87 502.01,311.87" fill="none" stroke="#6d904f" stroke-width="2.1" stroke-linejoin="round" stroke-linecap="butt"/>
<g fill="#8b8b8b">
<circle cx="65.34" cy="381.91" r="3.6"/>
<circle cx="74.25" cy="321.03" r="3.6"/>
<circle cx="83.16" cy="273.74" r="3.6"/>
<circle cx="92.08" cy="240.08" r="3.6"/>
<circle cx="100.99" cy="213.94" r="3.6"/>
<circle cx="109.90" cy="193.28" r="3.6"/>
<circle cx="118.81" cy="176.40" r="3.6"/>
<circle cx="127.72" cy="160.90" r="3.6"/>
<circle cx="136.63" cy="152.00" r="3.6"/>
<circle cx="145.55" cy="142.18" r="3.6"/>
<circle cx="154.46" cy="134.90" r="3.6"/>
<circle cx="163.37" cy="125.00" r="3.6"/>
<circle cx="172.28" cy="120.67" r="3.6"/>
<circle cx="181.19" cy="115.40" r="3.6"/>
<circle cx="190.10" cy="110.20" r="3.6"/>
<circle cx="199.02" cy="107.80" r="3.6"/>
<circle cx="207.93" cy="104.40" r="3.6"/>
<circle cx="216.84" cy="100.80" r="3.6"/>
<circle cx="225.75" cy="95.80" r="3.6"/>
<circle cx="234.66" cy="94.00" r="3.6"/>
<circle cx="243.57" cy="91.74" r="3.6"/>
<circle cx="252.49" cy="89.90" r="3.6"/>
<circle cx="261.40" cy="87.87" r="3.6"/>
<circle cx="270.31" cy="84.50" r="3.6"/>
<circle cx="279.22" cy="81.97" r="3.6"/>
<circle cx="288.13" cy="80.28" r="3.6"/>
<circle cx="297.04" cy="78.10" r="3.6"/>
<circle cx="305.95" cy="76.20" r="3.6"/>
<circle cx="314.87" cy="77.45" r="3.6"/>
<circle cx="323.78" cy="74.16" r="3.6"/>
<circle cx="332.69" cy="75.50" r="3.6"/>
<circle cx="341.60" cy="69.66" r="3.6"/>
<circle cx="350.51" cy="72.20" r="3.6"/>
<circle cx="359.42" cy="68.76" r="3.6"/>
<circle cx="368.34" cy="68.85" r="3.6"/>
<circle cx="377.25" cy="66.50" r="3.6"/>
<circle cx="386.16" cy="66.70" r="3.6"/>
<circle cx="395.07" cy="65.66" r="3.6"/>
<circle cx="403.98" cy="67.00" r="3.6"/>
<circle cx="412.89" cy="66.00" r="3.6"/>
<circle cx="421.81" cy="64.80" r="3.6"/>
<circle cx="430.72" cy="63.50" r="3.6"/>
<circle cx="439.63" cy="62.30" r="3.6"/>
<circle cx="448.54" cy="61.20" r="3.6"/>
<circle cx="457.45" cy="62.40" r="3.6"/>
<circle cx="466.36" cy="60.40" r="3.6"/>
<circle cx="475.28" cy="60.40" r="3.6"/>
<circle cx="484.19" cy="61.60" r="3.6"/>
<circle cx="493.10" cy="58.20" r="3.6"/>
<circle cx="502.01" cy="59.50" r="3.6"/>
</g>
<polyline points="56.43,455.07 57.32,446.99 58.21,439.10 59.10,431.39 59.99,423.85 60.89,416.47 61.78,409.26 62.67,402.20 63.56,395.29 64.45,388.53 65.34,381.91 66.23,374.29 67.12,367.09 68.02,360.27 68.91,353.80 69.80,347.65 70.69,341.80 71.58,336.24 72.47,330.93 73.36,325.87 74.25,321.03 75.14,315.57 76.04,310.29 76.93,305.19 77.82,300.26 78.71,295.48 79.60,290.86 80.49,286.38 81.38,282.04 82.27,277.83 83.16,273.74 84.06,269.91 84.95,266.20 85.84,262.59 86.73,259.10 87.62,255.70 88.51,252.40 89.40,249.19 90.29,246.07 91.19,243.03 92.08,240.08 92.97,237.16 93.86,234.31 94.75,231.54 95.64,228.84 96.53,226.20 97.42,223.63 98.31,221.12 99.21,218.67 100.10,216.28 100.99,213.94 101.88,211.66 102.77,209.43 103.66,207.25 104.55,205.12 105.44,203.04 106.33,201.00 107.23,199.01 108.12,197.06 109.01,195.15 109.90,193.28 110.79,191.45 111.68,189.65 112.57,187.90 113.46,186.17 114.36,184.49 115.25,182.83 116.14,181.21 117.03,179.62 117.92,178.06 118.81,176.53 119.70,175.07 120.59,173.63 121.48,172.23 122.38,170.85 123.27,169.49 124.16,168.16 125.05,166.85 125.94,165.57 126.83,164.31 127.72,163.07 128.61,161.86 129.51,160.66 130.40,159.48 131.29,158.33 132.18,157.19 133.07,156.07 133.96,154.98 134.85,153.89 135.74,152.83 136.63,151.79 137.53,150.76 138.42,149.74 139.31,148.75 140.20,147.76 141.09,146.80 141.98,145.85 142.87,144.91 143.76,143.99 144.65,143.08 145.55,142.18 146.44,141.31 147.33,140.45 148.22,139.61 149.11,138.77 150.00,137.95 150.89,137.14 151.78,136.34 152.68,135.55 153.57,134.78 154.46,134.01 155.35,133.26 156.24,132.51 157.13,131.78 158.02,131.05 158.91,130.34 159.80,129.64 160.70,128.94 161.59,128.25 162.48,127.58 163.37,126.91 164.26,126.25 165.15,125.60 166.04,124.95 166.93,124.32 167.82,123.69 168.72,123.07 169.61,122.46 170.50,121.86 171.39,121.26 172.28,120.67 173.17,120.09 174.06,119.51 174.95,118.95 175.85,118.39 176.74,117.83 177.63,117.28 178.52,116.74 179.41,116.21 180.30,115.68 181.19,115.15 182.08,114.64 182.97,114.13 183.87,113.62 184.76,113.12 185.65,112.63 186.54,112.14 187.43,111.66 188.32,111.18 189.21,110.71 190.10,110.24 191.00,109.80 191.89,109.36 192.78,108.93 193.67,108.50 194.56,108.08 195.45,107.66 196.34,107.25 197.23,106.84 198.12,106.43 199.02,106.03 199.91,105.64 200.80,105.24 201.69,104.85 202.58,104.47 203.47,104.09 204.36,103.71 205.25,103.34 206.14,102.97 207.04,102.61 207.93,102.24 208.82,101.89 209.71,101.53 210.60,101.18 211.49,100.83 212.38,100.49 213.27,100.15 214.17,99.81 215.06,99.47 215.95,99.14 216.84,98.81 217.73,98.49 218.62,98.17 219.51,97.85 220.40,97.53 221.29,97.22 222.19,96.91 223.08,96.60 223.97,96.29 224.86,95.99 225.75,95.69 226.64,95.40 227.53,95.10 228.42,94.81 229.32,94.52 230.21,94.23 231.10,93.95 231.99,93.67 232.88,93.39 233.77,93.11 234.66,92.84 235.55,92.58 236.44,92.32 237.34,92.06 238.23,91.81 239.12,91.56 240.01,91.31 240.90,91.06 241.79,90.81 242.68,90.57 243.57,90.32 244.46,90.08 245.36,89.85 246.25,89.61 247.14,89.38 248.03,89.14 248.92,88.91 249.81,88.69 250.70,88.46 251.59,88.23 252.49,88.01 253.38,87.79 254.27,87.57 255.16,87.35 256.05,87.14 256.94,86.92 257.83,86.71 258.72,86.50 259.61,86.29 260.51,86.08 261.40,85.87 262.29,85.67 263.18,85.47 264.07,85.26 264.96,85.06 265.85,84.87 266.74,84.67 267.63,84.47 268.53,84.28 269.42,84.09 270.31,83.90 271.20,83.71 272.09,83.52 272.98,83.33 273.87,83.14 274.76,82.96 275.66,82.78 276.55,82.60 277.44,82.42 278.33,82.24 279.22,82.06 280.11,81.88 281.00,81.71 281.89,81.53 282.78,81.36 283.68,81.19 284.57,81.02 285.46,80.85 286.35,80.68 287.24,80.51 288.13,80.35 289.02,80.18 289.91,80.02 290.81,79.86 291.70,79.70 292.59,79.54 293.48,79.38 294.37,79.22 295.26,79.06 296.15,78.91 297.04,78.75 297.93,78.60 298.83,78.44 299.72,78.29 300.61,78.14 301.50,77.99 302.39,77.84 303.28,77.69 304.17,77.55 305.06,77.40 305.95,77.26 306.85,77.11 307.74,76.97 308.63,76.83 309.52,76.69 310.41,76.55 311.30,76.41 312.19,76.27 313.08,76.13 313.98,75.99 314.87,75.86 315.76,75.72 316.65,75.59 317.54,75.45 318.43,75.32 319.32,75.19 320.21,75.06 321.10,74.93 322.00,74.80 322.89,74.67 323.78,74.54 324.67,74.41 325.56,74.29 326.45,74.16 327.34,74.04 328.23,73.91 329.12,73.79 330.02,73.67 330.91,73.54 331.80,73.42 332.69,73.30 333.58,73.18 334.47,73.06 335.36,72.94 336.25,72.83 337.15,72.71 338.04,72.59 338.93,72.48 339.82,72.36 340.71,72.25 341.60,72.13 342.49,72.02 343.38,71.91 344.27,71.80 345.17,71.69 346.06,71.57 346.95,71.46 347.84,71.36 348.73,71.25 349.62,71.14 350.51,71.03 351.40,70.92 352.30,70.82 353.19,70.71 354.08,70.61 354.97,70.50 355.86,70.40 356.75,70.29 357.64,70.19 358.53,70.09 359.42,69.99 360.32,69.89 361.21,69.79 362.10,69.69 362.99,69.59 363.88,69.49 364.77,69.39 365.66,69.29 366.55,69.19 367.44,69.10 368.34,69.00 369.23,68.90 370.12,68.81 371.01,68.71 371.90,68.62 372.79,68.52 373.68,68.43 374.57,68.34 375.47,68.25 376.36,68.15 377.25,68.06 378.14,67.97 379.03,67.88 379.92,67.79 380.81,67.70 381.70,67.61 382.59,67.52 383.49,67.43 384.38,67.34 385.27,67.26 386.16,67.17 387.05,67.08 387.94,67.00 388.83,66.91 389.72,66.83 390.62,66.74 391.51,66.66 392.40,66.57 393.29,66.49 394.18,66.41 395.07,66.32 395.96,66.24 396.85,66.16 397.74,66.08 398.64,66.00 399.53,65.91 400.42,65.83 401.31,65.75 402.20,65.67 403.09,65.59 403.98,65.52 404.87,65.44 405.76,65.36 406.66,65.28 407.55,65.20 408.44,65.13 409.33,65.05 410.22,64.97 411.11,64.90 412.00,64.82 412.89,64.75 413.79,64.67 414.68,64.60 415.57,64.52 416.46,64.45 417.35,64.37 418.24,64.30 419.13,64.23 420.02,64.16 420.91,64.08 421.81,64.01 422.70,63.94 423.59,63.87 424.48,63.80 425.37,63.73 426.26,63.66 427.15,63.59 428.04,63.52 428.93,63.45 429.83,63.38 430.72,63.31 431.61,63.24 432.50,63.17 433.39,63.10 434.28,63.04 435.17,62.97 436.06,62.90 436.96,62.84 437.85,62.77 438.74,62.70 439.63,62.64 440.52,62.57 441.41,62.51 442.30,62.44 443.19,62.38 444.08,62.31 444.98,62.25 445.87,62.18 446.76,62.12 447.65,62.06 448.54,61.99 449.43,61.93 450.32,61.87 451.21,61.81 452.11,61.74 453.00,61.68 453.89,61.62 454.78,61.56 455.67,61.50 456.56,61.44 457.45,61.38 458.34,61.32 459.23,61.26 460.13,61.20 461.02,61.14 461.91,61.08 462.80,61.02 463.69,60.96 464.58,60.90 465.47,60.84 466.36,60.79 467.25,60.73 468.15,60.67 469.04,60.61 469.93,60.56 470.82,60.50 471.71,60.44 472.60,60.39 473.49,60.33 474.38,60.28 475.28,60.22 476.17,60.16 477.06,60.11 477.95,60.05 478.84,60.00 479.73,59.94 480.62,59.89 481.51,59.84 482.40,59.78 483.30,59.73 484.19,59.67 485.08,59.62 485.97,59.57 486.86,59.51 487.75,59.46 488.64,59.41 489.53,59.36 490.42,59.31 491.32,59.25 492.21,59.20 493.10,59.15 493.99,59.10 494.88,59.05 495.77,59.00 496.66,58.95 497.55,58.90 498.45,58.84 499.34,58.79 500.23,58.74 501.12,58.69 502.01,58.65" fill="none" stroke="#8b8b8b" stroke-width="2.1" stroke-linejoin="round" stroke-linecap="butt"/>
<g font-family="'DejaVu Sans', 'Liberation Sans', sans-serif" font-size="14.67" fill="#000000">
<text x="56.50" y="509.4" text-anchor="middle">0</text>
<text x="145.45" y="509.4" text-anchor="middle">10</text>
<text x="234.90" y="509.4" text-anchor="middle">20</text>
<text x="323.65" y="509.4" text-anchor="middle">30</text>
<text x="412.45" y="509.4" text-anchor="middle">40</text>
<text x="502.36" y="509.4" text-anchor="middle">50</text>
<text x="30.0" y="496.85" text-anchor="end">0</text>
<text x="30.0" y="404.60" text-anchor="end">5</text>
<text x="30.0" y="312.99" text-anchor="end">10</text>
<text x="30.0" y="221.20" text-anchor="end">15</text>
<text x="30.0" y="129.13" text-anchor="end">20</text>
</g>
<g font-family="'DejaVu Sans', 'Liberation Sans', sans-serif" fill="#000000">
<text x="278.8" y="28.5" font-size="21.13" text-anchor="middle">Mean Failure Damage <tspan font-style="italic">S</tspan><tspan font-style="italic" font-size="14.8" dy="3.5" dx="-1.5">ρ</tspan></text>
<text x="279" y="534" font-size="17.45" text-anchor="middle">Degradation Rate <tspan font-style="italic">a</tspan></text>
</g>
<rect x="41.4" y="44.8" width="178.8" height="223.0" rx="2.9" ry="2.9" fill="#f0f0f0" fill-opacity="0.8" stroke="#dadada" stroke-opacity="0.8" stroke-width="1"/>
<g font-family="'DejaVu Sans', 'Liberation Sans', sans-serif" font-size="14.67" fill="#000000">
<circle cx="61.6" cy="58.60" r="3.5" fill="#008fd5"/>
<text x="87.8" y="61.90">Empirical, M =1</text>
<line x1="47" y1="79.02" x2="75.9" y2="79.02" stroke="#008fd5" stroke-width="2.1"/>
<text x="87.8" y="83.82">Predicted, M =1</text>
<circle cx="61.6" cy="102.44" r="3.5" fill="#fc4f30"/>
<text x="87.8" y="105.74">Empirical, M =2</text>
<line x1="47" y1="122.86" x2="75.9" y2="122.86" stroke="#fc4f30" stroke-width="2.1"/>
<text x="87.8" y="127.66">Predicted, M =2</text>
<circle cx="61.6" cy="146.28" r="3.5" fill="#e5ae38"/>
<text x="87.8" y="149.58">Empirical, M =5</text>
<line x1="47" y1="166.70" x2="75.9" y2="166.70" stroke="#e5ae38" stroke-width="2.1"/>
<text x="87.8" y="171.50">Predicted, M =5</text>
<circle cx="61.6" cy="190.12" r="3.5" fill="#6d904f"/>
<text x="87.8" y="193.42">Empirical, M =10</text>
<line x1="47" y1="210.54" x2="75.9" y2="210.54" stroke="#6d904f" stroke-width="2.1"/>
<text x="87.8" y="215.34">Predicted, M =10</text>
<circle cx="61.6" cy="233.96" r="3.5" fill="#8b8b8b"/>
<text x="87.8" y="237.26">Empirical, M =25</text>
<line x1="47" y1="254.38" x2="75.9" y2="254.38" stroke="#8b8b8b" stroke-width="2.1"/>
<text x="87.8" y="259.18">Predicted, M =25</text>
</g>
</svg>
</body></html>
